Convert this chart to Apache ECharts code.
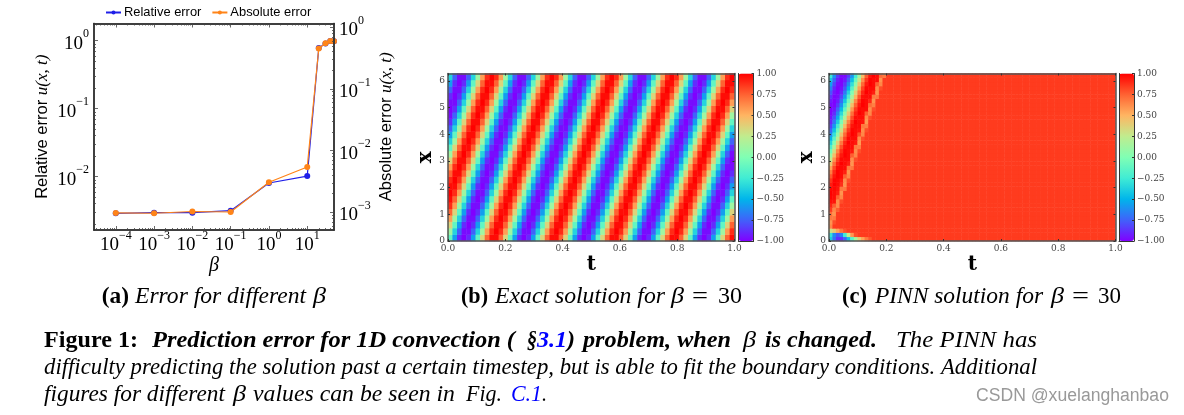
<!DOCTYPE html>
<html>
<head>
<meta charset="utf-8">
<style>html,body{margin:0;padding:0;background:#fff}#main{width:1184px;height:415px}</style>
<script src="https://cdn.jsdelivr.net/npm/echarts@6/dist/echarts.min.js"></script>
</head>
<body>
<div id="main"></div>
<script>
// panel a
const betas = [1e-4, 1e-3, 1e-2, 1e-1, 1, 10, 20, 30, 40, 50];
const relativeError = [0.00289, 0.00296, 0.00296, 0.00316, 0.00807, 0.0102, 0.78, 0.91, 0.99, 0.98];
const absoluteError = [0.000975, 0.000964, 0.00103, 0.00101, 0.00306, 0.00543, 0.451, 0.55, 0.6, 0.593];
const betaTicks = [1e-4, 1e-3, 1e-2, 1e-1, 1, 10];
const betaMinor = [3e-5, 4e-5, 5e-5, 6e-5, 7e-5, 8e-5, 9e-5, 2e-4, 3e-4, 4e-4, 5e-4, 6e-4, 7e-4, 8e-4, 9e-4, 2e-3, 3e-3, 4e-3, 5e-3, 6e-3, 7e-3, 8e-3, 9e-3, 0.02, 0.03, 0.04, 0.05, 0.06, 0.07, 0.08, 0.09, 0.2, 0.3, 0.4, 0.5, 0.6, 0.7, 0.8, 0.9, 2, 3, 4, 5, 6, 7, 8, 9, 20, 30, 40];
const relTicks = [0.01, 0.1, 1];
const relMinor = [0.002, 0.003, 0.004, 0.005, 0.006, 0.007, 0.008, 0.009, 0.02, 0.03, 0.04, 0.05, 0.06, 0.07, 0.08, 0.09, 0.2, 0.3, 0.4, 0.5, 0.6, 0.7, 0.8, 0.9];
const absTicks = [0.001, 0.01, 0.1, 1];
const absMinor = [6e-4, 7e-4, 8e-4, 9e-4, 0.002, 0.003, 0.004, 0.005, 0.006, 0.007, 0.008, 0.009, 0.02, 0.03, 0.04, 0.05, 0.06, 0.07, 0.08, 0.09, 0.2, 0.3, 0.4, 0.5, 0.6, 0.7, 0.8, 0.9];

// panels b and c, cell values in hundredths, first row is the bottom one
const rainbow = ['#8000ff', '#4062fa', '#00b5eb', '#40ecd4', '#80ffb4', '#c0ec8e', '#ffb562', '#ff6232', '#ff0000'];
const tTicks = [0, 0.2, 0.4, 0.6, 0.8, 1];
const xTicks = [0, 1, 2, 3, 4, 5, 6];
const barTicks = [-1, -0.75, -0.5, -0.25, 0, 0.25, 0.5, 0.75, 1];

const exactRows = [
[-12,-57,-89,-100,-89,-57,-12,36,75,97,97,75,36, -12,-57,-89,-100,-89,-57,-12,36,75,97,97,75,36, -12,-57,-89,-100,-89,-57,-12,36,75,97,97,75,36, -12,-57,-89,-100,-89,-57,-12,36,75,97,97,75,36, -12,-57,-89,-100,-89,-57,-12,36,75,97],
[12,-36,-75,-97,-97,-75,-36,12,57,89,100,89,57, 12,-36,-75,-97,-97,-75,-36,12,57,89,100,89,57, 12,-36,-75,-97,-97,-75,-36,12,57,89,100,89,57, 12,-36,-75,-97,-97,-75,-36,12,57,89,100,89,57, 12,-36,-75,-97,-97,-75,-36,12,57,89],
[36,-12,-57,-89,-100,-89,-57,-12,36,75,97,97,75, 36,-12,-57,-89,-100,-89,-57,-12,36,75,97,97,75, 36,-12,-57,-89,-100,-89,-57,-12,36,75,97,97,75, 36,-12,-57,-89,-100,-89,-57,-12,36,75,97,97,75, 36,-12,-57,-89,-100,-89,-57,-12,36,75],
[57,12,-36,-75,-97,-97,-75,-36,12,57,89,100,89, 57,12,-36,-75,-97,-97,-75,-36,12,57,89,100,89, 57,12,-36,-75,-97,-97,-75,-36,12,57,89,100,89, 57,12,-36,-75,-97,-97,-75,-36,12,57,89,100,89, 57,12,-36,-75,-97,-97,-75,-36,12,57],
[75,36,-12,-57,-89,-100,-89,-57,-12,36,75,97,97, 75,36,-12,-57,-89,-100,-89,-57,-12,36,75,97,97, 75,36,-12,-57,-89,-100,-89,-57,-12,36,75,97,97, 75,36,-12,-57,-89,-100,-89,-57,-12,36,75,97,97, 75,36,-12,-57,-89,-100,-89,-57,-12,36],
[89,57,12,-36,-75,-97,-97,-75,-36,12,57,89,100, 89,57,12,-36,-75,-97,-97,-75,-36,12,57,89,100, 89,57,12,-36,-75,-97,-97,-75,-36,12,57,89,100, 89,57,12,-36,-75,-97,-97,-75,-36,12,57,89,100, 89,57,12,-36,-75,-97,-97,-75,-36,12],
[97,75,36,-12,-57,-89,-100,-89,-57,-12,36,75,97, 97,75,36,-12,-57,-89,-100,-89,-57,-12,36,75,97, 97,75,36,-12,-57,-89,-100,-89,-57,-12,36,75,97, 97,75,36,-12,-57,-89,-100,-89,-57,-12,36,75,97, 97,75,36,-12,-57,-89,-100,-89,-57,-12],
[100,89,57,12,-36,-75,-97,-97,-75,-36,12,57,89, 100,89,57,12,-36,-75,-97,-97,-75,-36,12,57,89, 100,89,57,12,-36,-75,-97,-97,-75,-36,12,57,89, 100,89,57,12,-36,-75,-97,-97,-75,-36,12,57,89, 100,89,57,12,-36,-75,-97,-97,-75,-36],
[97,97,75,36,-12,-57,-89,-100,-89,-57,-12,36,75, 97,97,75,36,-12,-57,-89,-100,-89,-57,-12,36,75, 97,97,75,36,-12,-57,-89,-100,-89,-57,-12,36,75, 97,97,75,36,-12,-57,-89,-100,-89,-57,-12,36,75, 97,97,75,36,-12,-57,-89,-100,-89,-57],
[89,100,89,57,12,-36,-75,-97,-97,-75,-36,12,57, 89,100,89,57,12,-36,-75,-97,-97,-75,-36,12,57, 89,100,89,57,12,-36,-75,-97,-97,-75,-36,12,57, 89,100,89,57,12,-36,-75,-97,-97,-75,-36,12,57, 89,100,89,57,12,-36,-75,-97,-97,-75],
[75,97,97,75,36,-12,-57,-89,-100,-89,-57,-12,36, 75,97,97,75,36,-12,-57,-89,-100,-89,-57,-12,36, 75,97,97,75,36,-12,-57,-89,-100,-89,-57,-12,36, 75,97,97,75,36,-12,-57,-89,-100,-89,-57,-12,36, 75,97,97,75,36,-12,-57,-89,-100,-89],
[57,89,100,89,57,12,-36,-75,-97,-97,-75,-36,12, 57,89,100,89,57,12,-36,-75,-97,-97,-75,-36,12, 57,89,100,89,57,12,-36,-75,-97,-97,-75,-36,12, 57,89,100,89,57,12,-36,-75,-97,-97,-75,-36,12, 57,89,100,89,57,12,-36,-75,-97,-97],
[36,75,97,97,75,36,-12,-57,-89,-100,-89,-57,-12, 36,75,97,97,75,36,-12,-57,-89,-100,-89,-57,-12, 36,75,97,97,75,36,-12,-57,-89,-100,-89,-57,-12, 36,75,97,97,75,36,-12,-57,-89,-100,-89,-57,-12, 36,75,97,97,75,36,-12,-57,-89,-100],
[12,57,89,100,89,57,12,-36,-75,-97,-97,-75,-36, 12,57,89,100,89,57,12,-36,-75,-97,-97,-75,-36, 12,57,89,100,89,57,12,-36,-75,-97,-97,-75,-36, 12,57,89,100,89,57,12,-36,-75,-97,-97,-75,-36, 12,57,89,100,89,57,12,-36,-75,-97],
[-12,36,75,97,97,75,36,-12,-57,-89,-100,-89,-57, -12,36,75,97,97,75,36,-12,-57,-89,-100,-89,-57, -12,36,75,97,97,75,36,-12,-57,-89,-100,-89,-57, -12,36,75,97,97,75,36,-12,-57,-89,-100,-89,-57, -12,36,75,97,97,75,36,-12,-57,-89],
[-36,12,57,89,100,89,57,12,-36,-75,-97,-97,-75, -36,12,57,89,100,89,57,12,-36,-75,-97,-97,-75, -36,12,57,89,100,89,57,12,-36,-75,-97,-97,-75, -36,12,57,89,100,89,57,12,-36,-75,-97,-97,-75, -36,12,57,89,100,89,57,12,-36,-75],
[-57,-12,36,75,97,97,75,36,-12,-57,-89,-100,-89, -57,-12,36,75,97,97,75,36,-12,-57,-89,-100,-89, -57,-12,36,75,97,97,75,36,-12,-57,-89,-100,-89, -57,-12,36,75,97,97,75,36,-12,-57,-89,-100,-89, -57,-12,36,75,97,97,75,36,-12,-57],
[-75,-36,12,57,89,100,89,57,12,-36,-75,-97,-97, -75,-36,12,57,89,100,89,57,12,-36,-75,-97,-97, -75,-36,12,57,89,100,89,57,12,-36,-75,-97,-97, -75,-36,12,57,89,100,89,57,12,-36,-75,-97,-97, -75,-36,12,57,89,100,89,57,12,-36],
[-89,-57,-12,36,75,97,97,75,36,-12,-57,-89,-100, -89,-57,-12,36,75,97,97,75,36,-12,-57,-89,-100, -89,-57,-12,36,75,97,97,75,36,-12,-57,-89,-100, -89,-57,-12,36,75,97,97,75,36,-12,-57,-89,-100, -89,-57,-12,36,75,97,97,75,36,-12],
[-97,-75,-36,12,57,89,100,89,57,12,-36,-75,-97, -97,-75,-36,12,57,89,100,89,57,12,-36,-75,-97, -97,-75,-36,12,57,89,100,89,57,12,-36,-75,-97, -97,-75,-36,12,57,89,100,89,57,12,-36,-75,-97, -97,-75,-36,12,57,89,100,89,57,12],
[-100,-89,-57,-12,36,75,97,97,75,36,-12,-57,-89, -100,-89,-57,-12,36,75,97,97,75,36,-12,-57,-89, -100,-89,-57,-12,36,75,97,97,75,36,-12,-57,-89, -100,-89,-57,-12,36,75,97,97,75,36,-12,-57,-89, -100,-89,-57,-12,36,75,97,97,75,36],
[-97,-97,-75,-36,12,57,89,100,89,57,12,-36,-75, -97,-97,-75,-36,12,57,89,100,89,57,12,-36,-75, -97,-97,-75,-36,12,57,89,100,89,57,12,-36,-75, -97,-97,-75,-36,12,57,89,100,89,57,12,-36,-75, -97,-97,-75,-36,12,57,89,100,89,57],
[-89,-100,-89,-57,-12,36,75,97,97,75,36,-12,-57, -89,-100,-89,-57,-12,36,75,97,97,75,36,-12,-57, -89,-100,-89,-57,-12,36,75,97,97,75,36,-12,-57, -89,-100,-89,-57,-12,36,75,97,97,75,36,-12,-57, -89,-100,-89,-57,-12,36,75,97,97,75],
[-75,-97,-97,-75,-36,12,57,89,100,89,57,12,-36, -75,-97,-97,-75,-36,12,57,89,100,89,57,12,-36, -75,-97,-97,-75,-36,12,57,89,100,89,57,12,-36, -75,-97,-97,-75,-36,12,57,89,100,89,57,12,-36, -75,-97,-97,-75,-36,12,57,89,100,89],
[-57,-89,-100,-89,-57,-12,36,75,97,97,75,36,-12, -57,-89,-100,-89,-57,-12,36,75,97,97,75,36,-12, -57,-89,-100,-89,-57,-12,36,75,97,97,75,36,-12, -57,-89,-100,-89,-57,-12,36,75,97,97,75,36,-12, -57,-89,-100,-89,-57,-12,36,75,97,97],
[-36,-75,-97,-97,-75,-36,12,57,89,100,89,57,12, -36,-75,-97,-97,-75,-36,12,57,89,100,89,57,12, -36,-75,-97,-97,-75,-36,12,57,89,100,89,57,12, -36,-75,-97,-97,-75,-36,12,57,89,100,89,57,12, -36,-75,-97,-97,-75,-36,12,57,89,100]
];

// the PINN panel is flat past t = 0.22, only the left cells are listed per row
const pinnColumns = 80;
const pinnPlateau = 85;
const pinnRows = [
[-40,-70,-88,-88,-75,-45,-15,15,40,55,68,78],
[-30,-62,-78,-65,-25,25,60,80],
[30,40,55,70,80],
[64],
[60,80],
[68,68],
[72,60],
[85,64,76],
[91,76,62],
[96,95,62,80],
[99,97,76,64],
[100,97,92,60],
[98,98,95,68,68],
[93,100,97,88,60],
[87,99,98,92,62,80],
[78,95,100,97,76,64],
[67,90,100,97,92,60],
[55,82,97,98,97,68,68],
[41,72,92,100,97,92,60],
[26,60,85,98,97,97,62,80],
[11,46,76,94,100,97,76,64],
[-5,32,65,88,99,97,94,62,80],
[-20,17,52,80,96,98,97,68,66],
[-36,1,38,69,91,100,97,94,58],
[-50,-14,23,57,83,98,97,97,62,80],
[-63,-30,7,43,73,93,100,97,80,64],
[-74,-44,-8,29,62,86,99,97,95,62,80],
[-84,-58,-24,13,49,77,95,98,97,68,66],
[-91,-70,-39,-2,35,66,89,100,97,95,58],
[-96,-80,-53,-18,19,54,81,97,97,97,62,80],
[-99,-89,-65,-33,4,40,71,92,100,97,76,64],
[-100,-95,-76,-47,-12,25,59,85,98,97,97,62,80],
[-98,-99,-86,-61,-27,10,46,75,94,100,97,72,66],
[-93,-100,-93,-72,-42,-6,31,64,88,99,97,90,60],
[-87,-99,-97,-82,-56,-21,16,51,79,96,97,97,68,68],
[-78,-95,-100,-90,-68,-36,0,37,68,90,100,97,92,60],
[-67,-90,-100,-96,-79,-50,-15,22,56,83,98,97,97,62,80],
[-55,-82,-97,-99,-87,-63,-31,6,43,73,93,100,97,76,64],
[-41,-72,-92,-100,-94,-75,-45,-9,28,61,86,99,97,97,60],
[-26,-60,-85,-98,-98,-84,-59,-25,13,48,77,95,100,97,72,68]
];

// captions, each piece is squeezed to the span it has in the picture
const serif = '"Liberation Serif"';
const capFonts = {
  b: 'bold 23px ' + serif,
  i: 'italic 23px ' + serif,
  n: '23px ' + serif,
  bi: 'italic bold 23px ' + serif
};
const capTop = {sub: 285.5, l1: 329.5, l2: 356.5, l3: 383.5};
const capPieces = [
  ['sub', 'b', '(a)', 101.7, 129], ['sub', 'i', 'Error for different', 135, 306], ['sub', 'i', 'β', 313, 326],
  ['sub', 'b', '(b)', 461, 488], ['sub', 'i', 'Exact solution for', 495, 665], ['sub', 'i', 'β', 671, 684], ['sub', 'n', '=', 692, 708], ['sub', 'n', '30', 718, 742],
  ['sub', 'b', '(c)', 842, 867], ['sub', 'i', 'PINN solution for', 875, 1043], ['sub', 'i', 'β', 1051, 1064], ['sub', 'n', '=', 1072, 1089], ['sub', 'n', '30', 1098, 1121],
  ['l1', 'b', 'Figure 1:', 44, 138], ['l1', 'bi', 'Prediction error for 1D convection (', 152, 515], ['l1', 'bi', '§', 527, 537],
  ['l1', 'bi', '3.1', 537, 567, '#0000ff'], ['l1', 'bi', ')', 567, 575], ['l1', 'bi', 'problem, when', 583, 731], ['l1', 'i', 'β', 743, 756],
  ['l1', 'bi', 'is changed.', 765, 877], ['l1', 'i', 'The PINN has', 896, 1037],
  ['l2', 'i', 'difficulty predicting the solution past a certain timestep, but is able to fit the boundary conditions. Additional', 44, 1037],
  ['l3', 'i', 'figures for different', 44, 225], ['l3', 'i', 'β', 233, 246], ['l3', 'i', 'values can be seen in', 253, 455],
  ['l3', 'i', 'Fig.', 466, 502], ['l3', 'i', 'C.1', 511, 542, '#0000ff'], ['l3', 'i', '.', 542, 547]
];
const measure = document.createElement('canvas').getContext('2d');
function captionPiece(p) {
  measure.font = capFonts[p[1]];
  const w = measure.measureText(p[2]).width;
  return {
    type: 'text', x: p[3], y: capTop[p[0]], scaleX: (p[4] - p[3]) / w, silent: true,
    style: {text: p[2], font: capFonts[p[1]], fill: p[5] || '#000'}
  };
}

function cells(rows) {
  const out = [];
  rows.forEach((row, j) => row.forEach((v, i) => out.push([i, j, v])));
  return out;
}
const pinnFull = pinnRows.map(r => r.concat(new Array(pinnColumns - r.length).fill(pinnPlateau)));

const frameColor = '#333';
const decadeLabel = v => {
  const e = Math.round(Math.log10(v));
  return '{b|10}{s|' + String(e).replace('-', '−') + '}';
};
const decadeRich = {
  b: {fontFamily: serif, fontSize: 19, color: '#000', padding: [6, 0, 0, 0]},
  s: {fontFamily: serif, fontSize: 12, color: '#000', verticalAlign: 'top'}
};

function logAxis(grid, pos, min, max, ticks, len, labels, extra, margin) {
  return Object.assign({
    type: 'log', gridIndex: grid, position: pos, min: min, max: max, z: 5,
    axisLine: {show: true, onZero: false, lineStyle: {color: frameColor, width: 1.5}},
    axisTick: {show: true, inside: true, length: len, customValues: ticks, lineStyle: {color: '#444', width: 0.8}},
    axisLabel: labels ? {show: true, customValues: ticks, formatter: decadeLabel, rich: decadeRich, margin: margin === undefined ? 5 : margin, hideOverlap: false} : {show: false},
    splitLine: {show: false}, minorTick: {show: false}
  }, extra || {});
}

const smallLabel = {fontFamily: '"DejaVu Serif"', fontSize: 9, color: '#444'};
function frameAxis(grid, pos, min, max, ticks, labels, fmt, extra) {
  return Object.assign({
    type: 'value', gridIndex: grid, position: pos, min: min, max: max, z: 5,
    axisLine: {show: true, onZero: false, lineStyle: {color: '#555', width: 1.5}},
    axisTick: {show: true, inside: true, length: 2, customValues: ticks, lineStyle: {color: '#333', width: 1}},
    axisLabel: labels ? Object.assign({show: true, customValues: ticks, formatter: fmt, margin: 3, hideOverlap: false}, smallLabel) : {show: false},
    splitLine: {show: false}
  }, extra || {});
}
function hiddenCat(grid, n) {
  return {type: 'category', gridIndex: grid, show: false, data: Array.from({length: n}, (_, i) => i)};
}
const titleFont = {fontFamily: '"DejaVu Serif"', fontWeight: 'bold', fontSize: 20, color: '#000'};
const fix1 = v => v.toFixed(1);
const int0 = v => String(v);
const fix2 = v => v.toFixed(2).replace('-', '−');

const heatTop = 73.5, heatH = 167.5, heatW = 286.5;
const grids = [
  {left: 94, top: 23.5, width: 240, height: 206.5},
  {left: 448, top: heatTop, width: heatW, height: heatH},
  {left: 738.5, top: heatTop, width: 15, height: heatH},
  {left: 829, top: heatTop, width: heatW, height: heatH},
  {left: 1119, top: heatTop, width: 15, height: heatH}
];

const betaMin = 2.7e-5, betaMax = 50;
const relMin = 0.001644, relMax = 1.79;
const absMin = 5.16e-4, absMax = 1.148;

const barFrame = {axisLine: {show: true, onZero: false, lineStyle: {color: '#333', width: 1}}};
const barEdge = {type: 'value', position: 'bottom', min: 0, max: 1, z: 5, axisLine: barFrame.axisLine, axisTick: {show: false}, axisLabel: {show: false}, splitLine: {show: false}};

const xAxes = [
  logAxis(0, 'bottom', betaMin, betaMax, betaTicks, 4, true, {
    name: 'β', nameLocation: 'middle', nameGap: 21,
    nameTextStyle: {fontFamily: serif, fontStyle: 'italic', fontSize: 20, color: '#000'}
  }, 0),
  logAxis(0, 'top', betaMin, betaMax, betaTicks, 4, false),
  logAxis(0, 'bottom', betaMin, betaMax, betaMinor, 2, false),
  logAxis(0, 'top', betaMin, betaMax, betaMinor, 2, false),
  hiddenCat(1, exactRows[0].length),
  frameAxis(1, 'bottom', 0, 1, tTicks, true, fix1, {name: 't', nameLocation: 'middle', nameGap: 14, nameTextStyle: titleFont}),
  frameAxis(1, 'top', 0, 1, tTicks, false),
  Object.assign({gridIndex: 2}, barEdge),
  hiddenCat(3, pinnColumns),
  frameAxis(3, 'bottom', 0, 1, tTicks, true, fix1, {name: 't', nameLocation: 'middle', nameGap: 14, nameTextStyle: titleFont}),
  frameAxis(3, 'top', 0, 1, tTicks, false),
  Object.assign({gridIndex: 4}, barEdge)
];
const nameRich = {
  s: {fontFamily: '"Liberation Sans"', fontSize: 16.5, color: '#000'},
  m: {fontFamily: serif, fontStyle: 'italic', fontSize: 17, color: '#000'}
};
const yAxes = [
  logAxis(0, 'left', relMin, relMax, relTicks, 4, true, {
    name: '{s|Relative error }{m|u(x, t)}', nameLocation: 'middle', nameGap: 43, nameTextStyle: {rich: nameRich}
  }),
  logAxis(0, 'right', absMin, absMax, absTicks, 4, true, {
    name: '{s|Absolute error }{m|u(x, t)}', nameLocation: 'middle', nameGap: 44, nameTextStyle: {rich: nameRich}
  }),
  logAxis(0, 'left', relMin, relMax, relMinor, 2, false),
  logAxis(0, 'right', absMin, absMax, absMinor, 2, false),
  hiddenCat(1, exactRows.length),
  frameAxis(1, 'left', 0, 6.283, xTicks, true, int0, {name: 'x', nameLocation: 'middle', nameGap: 11, nameTextStyle: titleFont}),
  frameAxis(1, 'right', 0, 6.283, xTicks, false),
  frameAxis(2, 'right', -1, 1, barTicks, true, fix2, barFrame),
  frameAxis(2, 'left', -1, 1, barTicks, false, null, Object.assign({axisTick: {show: false}}, barFrame)),
  hiddenCat(3, pinnFull.length),
  frameAxis(3, 'left', 0, 6.283, xTicks, true, int0, {name: 'x', nameLocation: 'middle', nameGap: 11, nameTextStyle: titleFont}),
  frameAxis(3, 'right', 0, 6.283, xTicks, false),
  frameAxis(4, 'right', -1, 1, barTicks, true, fix2, barFrame),
  frameAxis(4, 'left', -1, 1, barTicks, false, null, Object.assign({axisTick: {show: false}}, barFrame))
];

function colorbar(left, seriesIndex) {
  return {
    type: 'continuous', min: -100, max: 100, seriesIndex: seriesIndex, dimension: 2,
    left: left, top: heatTop, itemWidth: 15, itemHeight: heatH, padding: 0,
    calculable: false, hoverLink: false, text: null, showLabel: false, orient: 'vertical', z: 1,
    inRange: {color: rainbow}, textStyle: {color: 'transparent'}, silent: true
  };
}

const lineBits = {type: 'line', symbol: 'circle', symbolSize: 6, xAxisIndex: 0, silent: true, animation: false};

const myChart = echarts.init(document.getElementById('main'), null, {renderer: 'canvas'});
myChart.setOption({
  animation: false,
  backgroundColor: '#fff',
  grid: grids,
  xAxis: xAxes,
  yAxis: yAxes,
  legend: {
    left: 105, top: 6, itemWidth: 15, itemHeight: 5, itemGap: 10, padding: 0,
    textStyle: {fontFamily: '"Liberation Sans"', fontSize: 12.9, color: '#000', padding: [0, 0, 0, -2]},
    data: ['Relative error', 'Absolute error']
  },
  visualMap: [colorbar(738.5, 2), colorbar(1119, 3)],
  series: [
    Object.assign({}, lineBits, {
      name: 'Relative error', yAxisIndex: 0, z: 3,
      data: betas.map((b, i) => [b, relativeError[i]]),
      itemStyle: {color: '#1f1fe8'}, lineStyle: {color: '#1f1fe8', width: 1.2}
    }),
    Object.assign({}, lineBits, {
      name: 'Absolute error', yAxisIndex: 1, z: 4,
      data: betas.map((b, i) => [b, absoluteError[i]]),
      itemStyle: {color: '#ff8418'}, lineStyle: {color: '#ff8418', width: 1.2}
    }),
    {type: 'heatmap', xAxisIndex: 4, yAxisIndex: 4, data: cells(exactRows), silent: true, progressive: 0, emphasis: {disabled: true}},
    {type: 'heatmap', xAxisIndex: 8, yAxisIndex: 9, data: cells(pinnFull), silent: true, progressive: 0, emphasis: {disabled: true}}
  ],
  graphic: capPieces.map(captionPiece).concat([
    {type: 'text', x: 976, y: 387, silent: true, style: {text: 'CSDN @xuelanghanbao', font: '17.6px "Liberation Sans"', fill: '#999'}}
  ])
});
</script>
</body>
</html>
